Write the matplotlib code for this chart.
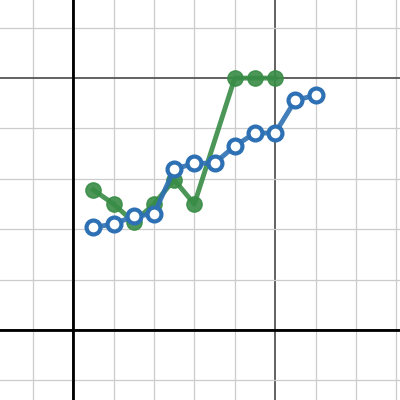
import matplotlib
matplotlib.use("Agg")
import matplotlib.pyplot as plt
import numpy as np

green_x = [0.5, 1.0, 1.5, 2.0, 2.5, 3.0, 4.0, 4.5, 5.0]
green_y = [2.78, 2.5, 2.14, 2.5, 2.98, 2.5, 5.0, 5.0, 5.0]
blue_x = [0.5, 1.0, 1.5, 2.0, 2.5, 3.0, 3.5, 4.0, 4.5, 5.0, 5.5, 6.0]
blue_y = [2.04, 2.1, 2.26, 2.3, 3.19, 3.31, 3.31, 3.65, 3.91, 3.91, 4.56, 4.66]

fig = plt.figure(figsize=(4, 4), dpi=100)
ax = fig.add_axes([0, 0, 1, 1])
ax.set_xlim(-1.81, 8.09)
ax.set_ylim(-1.39, 6.55)
for v in range(-2, 9):
    ax.axvline(v, color="#555555" if v % 5 == 0 else "#cccccc", lw=1.3 if v % 5 == 0 else 0.9, zorder=0)
for v in range(-2, 7):
    ax.axhline(v, color="#555555" if v % 5 == 0 else "#cccccc", lw=1.3 if v % 5 == 0 else 0.9, zorder=0)
ax.axvline(0, color="black", lw=2, zorder=1)
ax.axhline(0, color="black", lw=2, zorder=1)

ax.plot(green_x, green_y, color="#388c46", lw=3.5, alpha=0.9, marker="o", ms=11, zorder=2)
ax.plot(blue_x, blue_y, color="#2d70b3", lw=3.5, alpha=0.9, zorder=3)
ax.plot(blue_x, blue_y, ls="none", marker="o", ms=10, mfc="white", mec="#2d70b3", mew=3, zorder=4)
ax.set_xticks([]); ax.set_yticks([])
for s in ax.spines.values():
    s.set_visible(False)
fig.savefig("out.png", dpi=100)
